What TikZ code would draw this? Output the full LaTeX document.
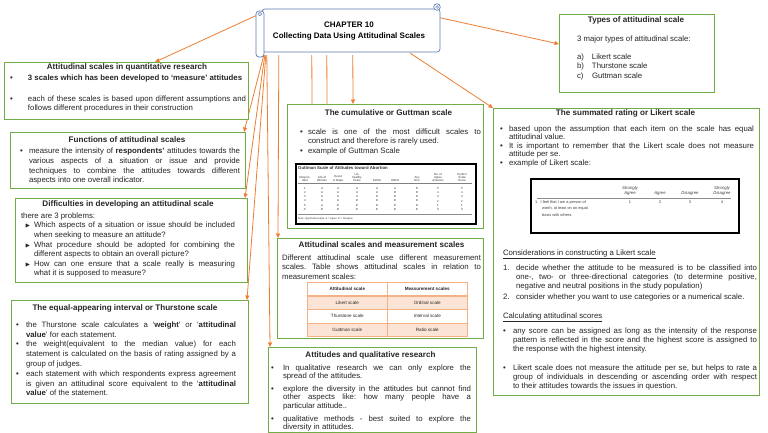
\documentclass[tikz,border=0pt]{standalone}
\usepackage{fontspec}
\setmainfont{Liberation Sans}
\usepackage{amssymb}
\usepackage{enumitem}
\usetikzlibrary{arrows.meta,shadows}
\definecolor{org}{HTML}{ED7D31}
\definecolor{grn}{HTML}{70AD47}
\definecolor{scb}{HTML}{5B7DB1}
\definecolor{tbd}{HTML}{F4B183}
\definecolor{tfl}{HTML}{FBE4D5}
\definecolor{txtc}{HTML}{262626}
\pgfdeclarelayer{bg}
\pgfsetlayers{bg,main}
\frenchspacing
\newcommand\bodyf{\fontsize{7.8}{9.6}\selectfont}
\newcommand\titf{\bfseries\fontsize{8.1}{9.6}\selectfont}
\newcommand\ttl[1]{{\titf\centering #1\par}}
\newlist{blist}{itemize}{1}
\setlist[blist]{label=\textbullet,nosep,align=left}
\newlist{alist}{itemize}{1}
\setlist[alist]{label={\fontsize{6}{6}\selectfont$\blacktriangleright$},nosep,align=left}
\newlist{nlist}{enumerate}{1}
\setlist[nlist]{label=\arabic*.,nosep,align=left}
\begin{document}
\begin{tikzpicture}[x=1pt,y=-1pt,
  gbox/.style={draw=grn,line width=0.8pt,fill=white,anchor=north west,inner sep=0pt,outer sep=0pt},
  txt/.style={anchor=north west,inner sep=0pt,outer sep=0pt,align=justify,font=\bodyf,text=txtc},
  conn/.style={draw=org,line width=0.8pt,-{Triangle[length=4.5pt,width=4pt]}},
  stub/.style={draw=org,line width=0.8pt},
  mcell/.style={draw=tbd,line width=0.6pt,minimum width=80pt,minimum height=13.5pt,anchor=north west,inner sep=0pt,font=\fontsize{4.6}{5}\selectfont,text=txtc},
  gtab/.style={inner sep=0pt,font=\fontsize{2.9}{3.3}\selectfont,align=center,text=black!80},
  imgbox/.style={draw=black,line width=1.8pt,fill=white,anchor=north west,inner sep=0pt,drop shadow={shadow xshift=1.2pt,shadow yshift=-1.5pt,opacity=0.6}},
  scrl/.style={draw=scb,fill=white,line width=0.7pt}
]
\useasboundingbox (0,0) rectangle (768,433);

% ---------- scroll (title) ----------
\draw[scrl,rounded corners=3pt] (262,9) rectangle (440,52);
\draw[scrl,rounded corners=3pt] (256,11) rectangle (264,57);
\draw[draw=scb,line width=0.5pt] (260,14) circle (1.8pt);
\draw[scrl] (437,7) circle (3.3pt);
\draw[draw=scb,line width=0.5pt] (437,7) circle (1.4pt);
\node[inner sep=0pt,minimum width=182pt,minimum height=48pt,align=center,text=black,
      font=\bfseries\fontsize{8}{11.5}\selectfont] (sc) at (349,31)
  {CHAPTER 10\\Collecting Data Using Attitudinal Scales};

% ---------- Box 1 ----------
\node[gbox,minimum width=244pt,minimum height=57pt] (b1) at (4,62) {};
\node[txt,text width=238pt] (b1t) at (8,64) {\ttl{Attitudinal scales in quantitative research}\vspace{1pt}
\begin{blist}[leftmargin=20pt,labelwidth=6pt,labelsep=12pt,itemsep=11pt]
\item {\bfseries 3 scales which has been developed to ‘measure’ attitudes}
\item each of these scales is based upon different assumptions and \linebreak follows different procedures in their construction
\end{blist}};

% ---------- Box 2 ----------
\node[gbox,minimum width=235pt,minimum height=56pt] (b2) at (10,132) {};
\node[txt,text width=226pt] (b2t) at (14,137) {\ttl{Functions of attitudinal scales}\vspace{1.5pt}
\begin{blist}[leftmargin=15pt,labelwidth=6pt,labelsep=3pt]
\item measure the intensity of {\bfseries respondents’} attitudes towards the \linebreak various aspects of a situation or issue and provide \linebreak techniques to combine the attitudes towards different \linebreak aspects into one overall indicator.
\end{blist}};

% ---------- Box 3 ----------
\node[gbox,minimum width=232pt,minimum height=84pt] (b3) at (15,198) {};
\node[txt,text width=214pt] (b3t) at (21,201) {\ttl{Difficulties in developing an attitudinal scale}\vspace{1.8pt}
there are 3 problems:\par
\begin{alist}[leftmargin=13pt,labelwidth=7pt,labelsep=2pt]
\item Which aspects of a situation or issue should be included \linebreak when seeking to measure an attitude?
\item What procedure should be adopted for combining the \linebreak different aspects to obtain an overall picture?
\item How can one ensure that a scale really is measuring \linebreak what it is supposed to measure?
\end{alist}};

% ---------- Box 4 ----------
\node[gbox,minimum width=237pt,minimum height=103pt] (b4) at (11,300) {};
\node[txt,text width=222pt,font=\fontsize{7.8}{9.8}\selectfont] (b4t) at (14,305) {\ttl{The equal-appearing interval or Thurstone scale}\vspace{6.6pt}
\begin{blist}[leftmargin=12pt,labelwidth=4pt,labelsep=6pt]
\item the Thurstone scale calculates a ‘{\bfseries weight}’ or ‘{\bfseries attitudinal} \linebreak {\bfseries value}’ for each statement.
\item the weight(equivalent to the median value) for each \linebreak statement is calculated on the basis of rating assigned by a \linebreak group of judges.
\item each statement with which respondents express agreement \linebreak is given an attitudinal score equivalent to the ‘{\bfseries attitudinal} \linebreak {\bfseries value}’ of the statement.
\end{blist}};

% ---------- Guttman ----------
\node[gbox,minimum width=196pt,minimum height=124pt] (gutt) at (287,104) {};
\node[txt,text width=185pt] (gutxt) at (296,110) {\ttl{The cumulative or Guttman scale}\vspace{8.8pt}
\begin{blist}[leftmargin=12pt,labelwidth=4pt,labelsep=4pt]
\item scale is one of the most difficult scales to \linebreak construct and therefore is rarely used.
\item example of Guttman Scale
\end{blist}};
\node[imgbox,minimum width=180pt,minimum height=60pt] (gimg) at (295,163) {};
\node[gtab,anchor=west,font=\bfseries\fontsize{4.3}{5}\selectfont] (gtt) at (298,168) {Guttman Scale of Attitudes toward Abortion};
\foreach \x/\h [count=\i] in {305/Respon-\\dent,322/Life of\\Woman,338/Incest\\or Rape,357/Un-\\healthy\\Fetus,377/Father,395/Afford,417/Any\\time,438/No. of\\Agree\\Answers,462/Perfect\\Scale\\Score}
  {\node[gtab,anchor=south] (gh\i) at (\x,182) {\h};}
\draw[black!50,line width=0.3pt] (298,183.5) -- (472,183.5);
\foreach \row [count=\j] in {{1,A,A,A,A,A,D,5,5},{2,A,A,A,A,D,D,4,4},{3,A,A,A,D,D,D,3,3},{4,A,A,D,D,D,D,2,2},{5,A,D,D,D,D,D,1,1},{6,D,D,D,D,D,D,0,0}}
  {\foreach \v [count=\k from 0] in \row
    {\pgfmathsetmacro\xx{{305,322,338,357,377,395,417,438,462}[\k]}
     \node[gtab] (gc\j-\k) at (\xx,{183.8+4.3*\j}) {\v};}}
\draw[black!45,line width=0.8pt] (298,214.5) -- (472,214.5);
\node[gtab,anchor=west,font=\fontsize{2.5}{3}\selectfont] (gnote) at (298,219) {Note: Hypothetical data. A = Agree; D = Disagree};

% ---------- Measurement ----------
\node[gbox,minimum width=206pt,minimum height=100pt] (meas) at (277,238) {};
\node[txt,text width=199pt,font=\fontsize{7.8}{9.5}\selectfont] (mtxt) at (282,242) {\ttl{Attitudinal scales and measurement scales}\vspace{2.7pt}
Different attitudinal scale use different measurement \linebreak scales. Table shows attitudinal scales in relation to \linebreak measurement scales:};
\node[mcell,fill=white,font=\bfseries\fontsize{4.6}{5}\selectfont] (ma0) at (307,282) {Attitudinal scale};
\node[mcell,fill=white,font=\bfseries\fontsize{4.6}{5}\selectfont] (mb0) at (387,282) {Measurement scales};
\foreach \a/\b/\f [count=\i] in {Likert scale/Ordinal scale/tfl,Thurstone scale/Interval scale/white,Guttman scale/Ratio scale/tfl}
  {\node[mcell,fill=\f] (ma\i) at (307,{282+13.5*\i}) {\a};
   \node[mcell,fill=\f] (mb\i) at (387,{282+13.5*\i}) {\b};}
\draw[tbd,line width=1.3pt] (ma0.south west) -- (mb0.south east);

% ---------- Qualitative ----------
\node[gbox,minimum width=208pt,minimum height=85pt] (qual) at (268,347) {};
\node[txt,text width=201pt,font=\fontsize{7.8}{8.3}\selectfont] (qtxt) at (270,352) {\ttl{Attitudes and qualitative research}\vspace{4pt}
\begin{blist}[leftmargin=13pt,labelwidth=4pt,labelsep=8pt,itemsep=4.8pt]
\item In qualitative research we can only explore the \linebreak spread of the attitudes.
\item explore the diversity in the attitudes but cannot find \linebreak other aspects like: how many people have a \linebreak particular attitude..
\item qualitative methods - best suited to explore the \linebreak diversity in attitudes.
\end{blist}};

% ---------- Types ----------
\node[gbox,minimum width=155pt,minimum height=78pt] (types) at (559,14) {};
\node[anchor=base,inner sep=0pt,font=\titf,text=txtc] (ttit) at (636,23) {Types of attitudinal scale};
\node[txt,align=left,font=\fontsize{7.8}{9.6}\selectfont] (ttxt) at (577,35.5)
  {3 major types of attitudinal scale:\\[8.4pt]
   \makebox[15pt][l]{a)}Likert scale\\
   \makebox[15pt][l]{b)}Thurstone scale\\
   \makebox[15pt][l]{c)}Guttman scale};

% ---------- Likert ----------
\node[gbox,minimum width=266pt,minimum height=287pt] (lik) at (493,108) {};
\node[txt,text width=257pt,font=\fontsize{7.8}{8.3}\selectfont] (ltxt) at (497,110) {\ttl{The summated rating or Likert scale}\vspace{7pt}
\begin{blist}[leftmargin=12pt,labelwidth=4pt,labelsep=5pt,itemsep=0.7pt]
\item based upon the assumption that each item on the scale has equal \linebreak attitudinal value.
\item It is important to remember that the Likert scale does not measure \linebreak attitude per se.
\item example of Likert scale:
\end{blist}};
\node[imgbox,minimum width=208pt,minimum height=54pt] (limg) at (530,178) {};
\foreach \x/\h [count=\i] in {630/Strongly\\Agree,660/Agree,690/Disagree,722/Strongly\\Disagree}
  {\node[inner sep=0pt,anchor=south,align=center,text=black!75,font=\itshape\fontsize{4.3}{5}\selectfont] (lh\i) at (\x,196) {\h};
   \node[inner sep=0pt,anchor=north,text=black!75,font=\fontsize{4}{5}\selectfont] (lv\i) at (\x,200.5) {\i};}
\draw[black!45,line width=0.5pt] (537,198) -- (731,198);
\node[inner sep=0pt,anchor=north west,align=left,text=black!75,font=\fontsize{3.9}{6.3}\selectfont] (lrow) at (535,200.5)
  {1.\ \ I feel that I am a person of\\\hspace*{7pt}worth, at least on an equal\\\hspace*{7pt}basis with others.};
\node[txt,text width=254pt,font=\fontsize{7.8}{9}\selectfont] (ltxt2) at (503,249.5) {%
\underline{Considerations in constructing a Likert scale}\par\vspace{5pt}
\begin{nlist}[leftmargin=13pt,labelwidth=10pt,labelsep=3pt,itemsep=2pt]
\item decide whether the attitude to be measured is to be classified into \linebreak one-, two- or three-directional categories (to determine positive, \linebreak negative and neutral positions in the study population)
\item consider whether you want to use categories or a numerical scale.
\end{nlist}\vspace{10pt}
\underline{Calculating attitudinal scores}\par\vspace{5pt}
\begin{blist}[leftmargin=10pt,labelwidth=4pt,labelsep=6pt,itemsep=10pt]
\item any score can be assigned as long as the intensity of the response \linebreak pattern is reflected in the score and the highest score is assigned to \linebreak the response with the highest intensity.
\item Likert scale does not measure the attitude per se, but helps to rate a \linebreak group of individuals in descending or ascending order with respect \linebreak to their attitudes towards the issues in question.
\end{blist}};

% ---------- connectors ----------
\begin{pgfonlayer}{bg}
\draw[conn] ([yshift=-8pt]sc.north west) -- ([xshift=29pt]b1.north);
\draw[conn] ([xshift=6pt]sc.south west) -- ([xshift=-1pt]b2.north east);
\draw[conn] ([xshift=7pt]sc.south west) -- ([xshift=-2pt]b3.north east);
\draw[conn] ([xshift=8pt]sc.south west) -- ([xshift=-1pt]b4.north east);
\draw[conn] ([xshift=9pt]sc.south west) -- ([xshift=2pt]qual.north west);
\draw[conn] ([xshift=21pt]sc.south west) -- ([xshift=1pt]meas.north west);
\draw[conn] ([xshift=95pt]sc.south west) -- ([xshift=66pt]gutt.north west);
\draw[stub] ([xshift=54pt]sc.south west) -- ([xshift=25pt]gutt.north west);
\draw[stub] ([xshift=69pt]sc.south west) -- ([xshift=40pt]gutt.north west);
\draw[conn] ([xshift=-30pt,yshift=2pt]sc.south east) -- (lik.north west);
\draw[conn] ([yshift=-11pt]sc.north east) -- ([yshift=-30pt]types.north west);
\end{pgfonlayer}
\end{tikzpicture}
\end{document}
